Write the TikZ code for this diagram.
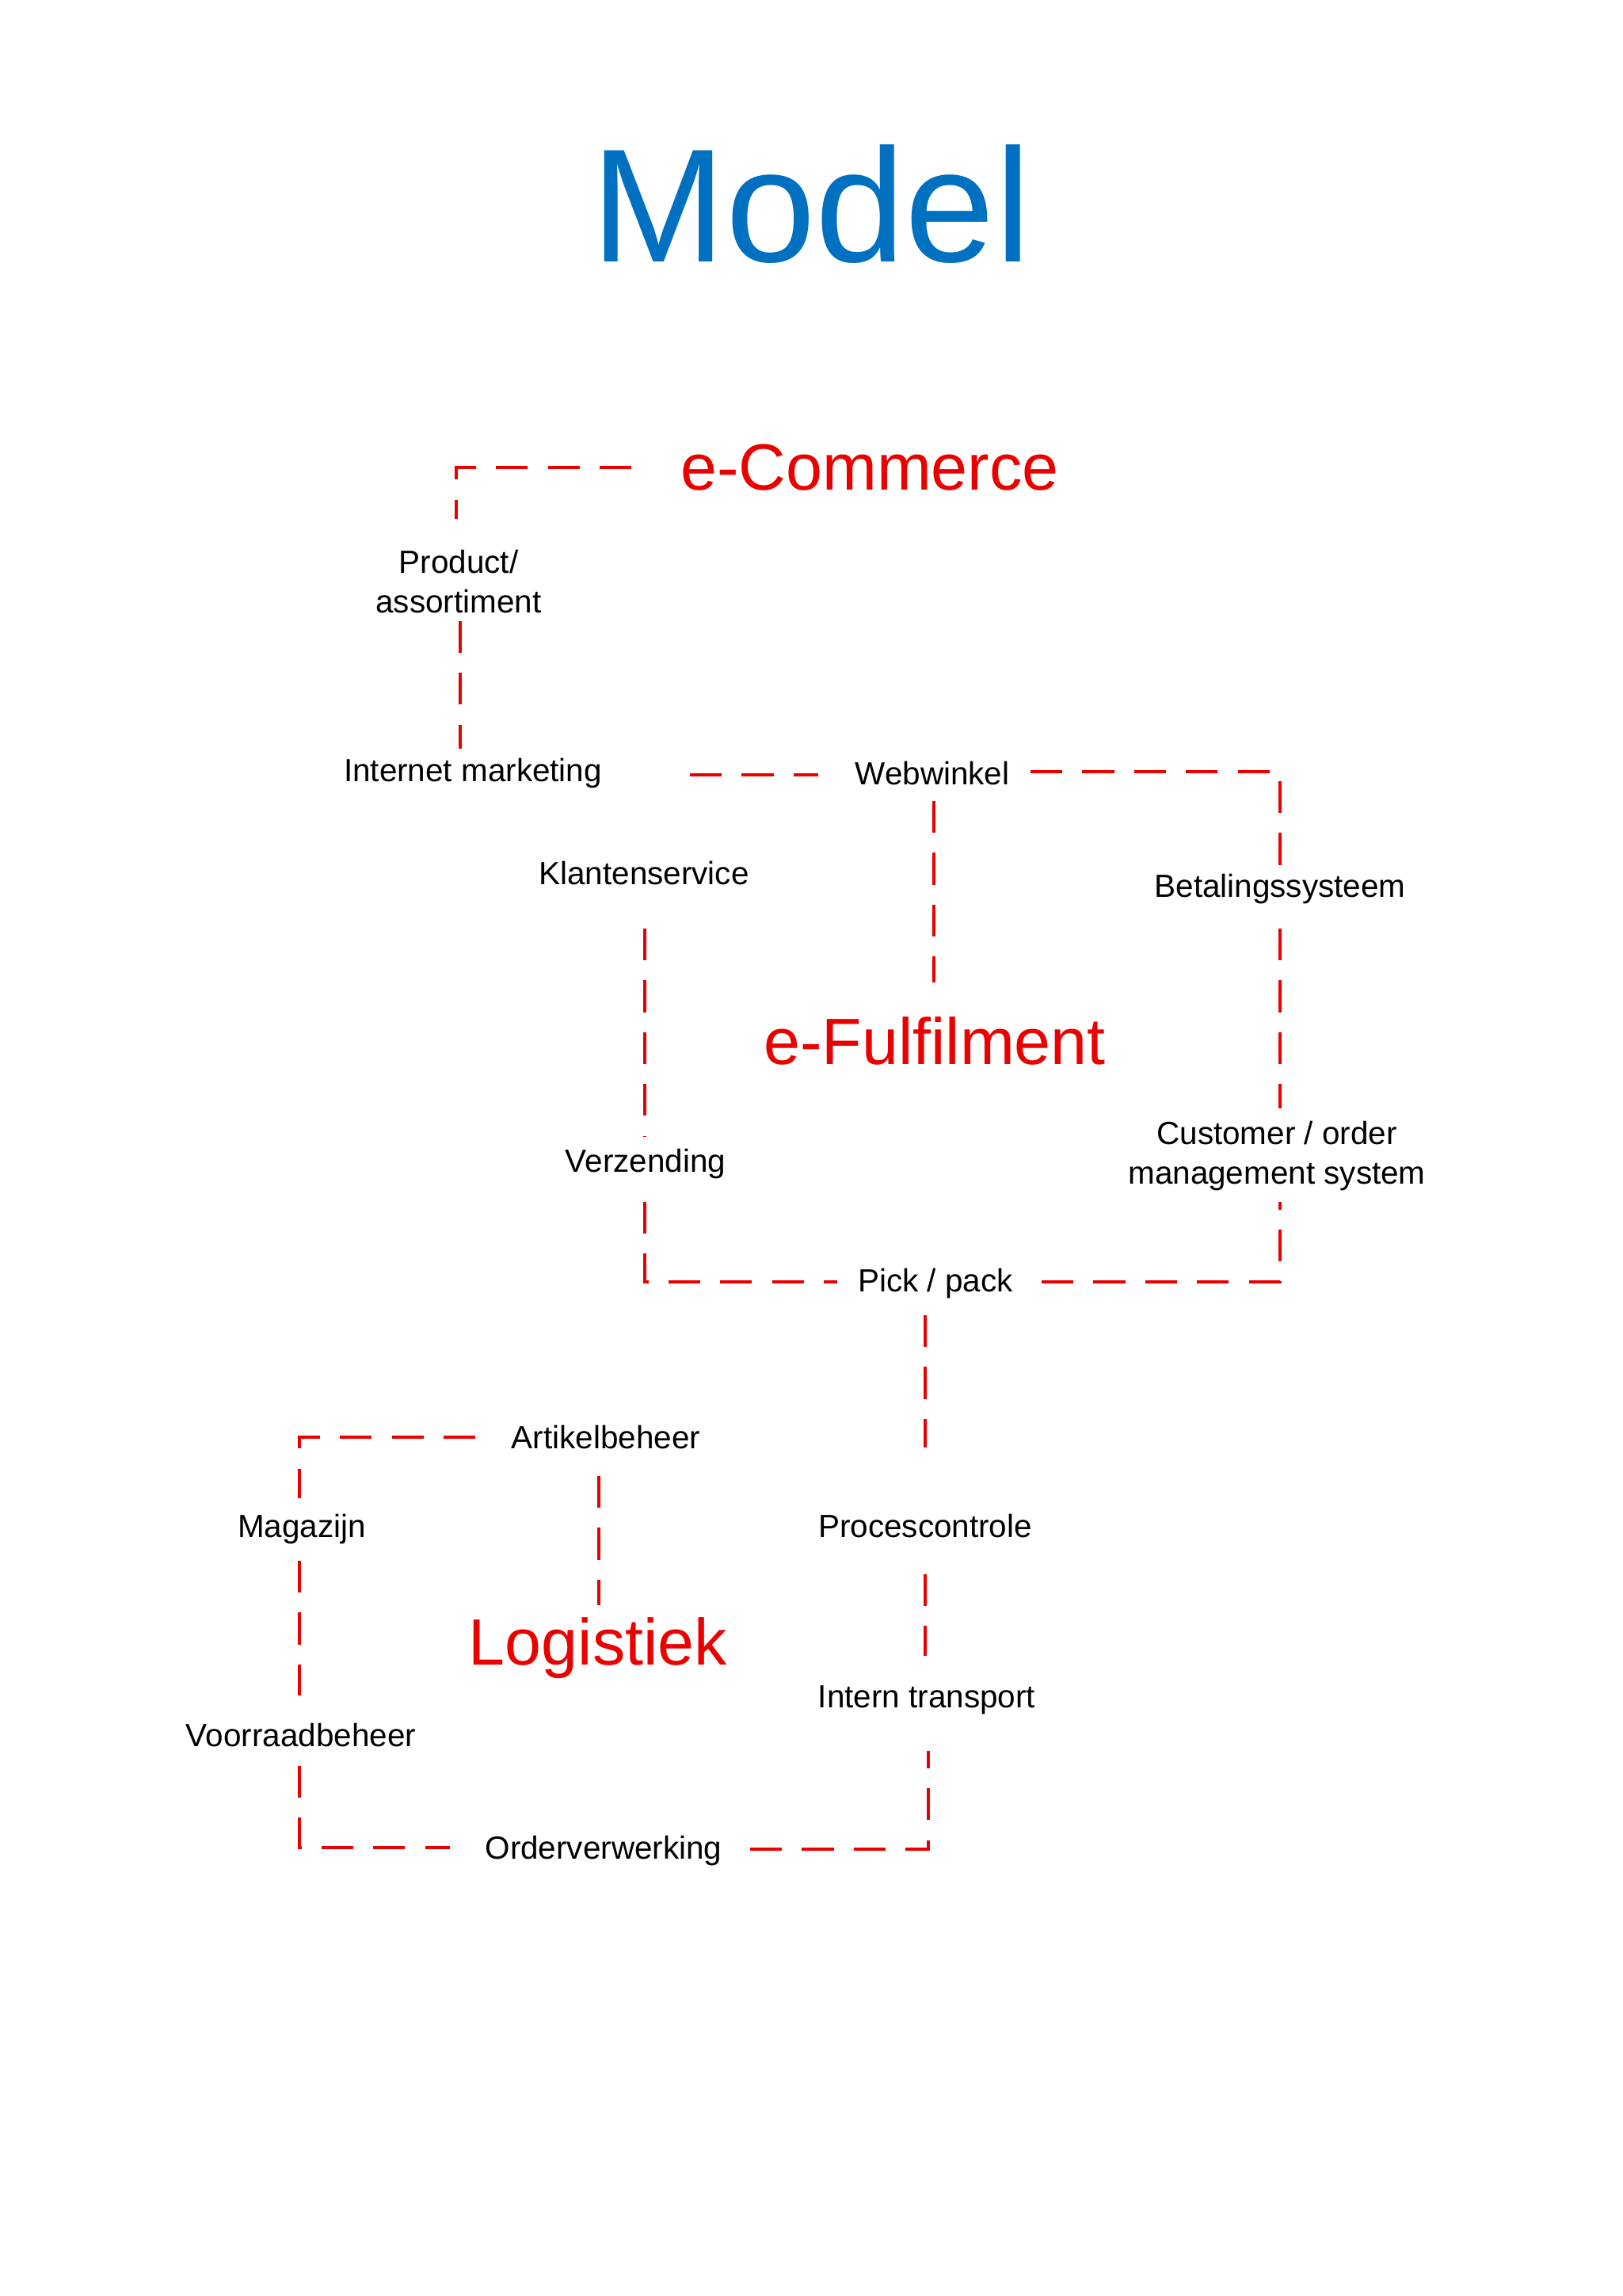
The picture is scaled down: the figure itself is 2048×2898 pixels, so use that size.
\documentclass[tikz,border=0pt]{standalone}
\usepackage{fontspec}
\setmainfont{Liberation Sans}
\definecolor{tblue}{RGB}{0,112,192}
\definecolor{tred}{RGB}{235,0,0}
\begin{document}
\begin{tikzpicture}[x=0.01cm,y=-0.01cm,
  lab/.style={font=\fontsize{11.5pt}{14pt}\selectfont,align=center,inner sep=0pt},
  big/.style={font=\fontsize{23.5pt}{28pt}\selectfont,text=tred,inner sep=0pt},
  dl/.style={draw=tred,line width=1.3pt,dash pattern=on 11.4pt off 7.2pt}]
\useasboundingbox[fill=white] (0,0) rectangle (2048,2898);
\node[font=\fontsize{58pt}{64pt}\selectfont,text=tblue,inner sep=0pt] (title) at (1024,258) {Model};
\node[big] (ec) at (1098,590) {e-Commerce};
\node[big] (ef) at (1180,1314) {e-Fulfilment};
\node[big] (lg) at (755,2080) {Logistiek};
\node[lab] (pa) at (579,734) {Product/\\assortiment};
\node[lab] (im) at (597,976) {Internet marketing};
\node[lab] (ww) at (1177,976) {Webwinkel};
\node[lab] (ks) at (813,1102) {Klantenservice};
\node[lab] (bs) at (1616,1122) {Betalingssysteem};
\node[lab] (vz) at (815,1469) {Verzending};
\node[lab] (co) at (1612,1459) {Customer / order\\management system};
\node[lab] (pp) at (1181,1620) {Pick / pack};
\node[lab] (ab) at (765,1814) {Artikelbeheer};
\node[lab] (mg) at (381,1930) {Magazijn};
\node[lab] (pc) at (1168,1926) {Procescontrole};
\node[lab] (vb) at (380,2190) {Voorraadbeheer};
\node[lab] (it) at (1170,2146) {Intern transport};
\node[lab] (ov) at (762,2336) {Orderverwerking};
\coordinate (c1) at (576,590);
\coordinate (c2) at (1616,974);
\coordinate (c3) at (814,1618);
\coordinate (c4) at (1616,1618);
\coordinate (c5) at (378,1814);
\coordinate (c6) at (378,2332);
\coordinate (c7) at (1172,2334);
\draw[dl] (797,590) -- (c1) -- (576,655);
\draw[dl] (581,784) -- (581,945);
\draw[dl] (871,978) -- (1033,978);
\draw[dl] (1301,974) -- (c2) -- (1616,1092);
\draw[dl] (1179,1011) -- (1179,1240);
\draw[dl] (814,1172) -- (814,1435);
\draw[dl] (1616,1172) -- (1616,1399);
\draw[dl] (814,1517) -- (c3) -- (1057,1618);
\draw[dl] (1315,1618) -- (c4) -- (1616,1517);
\draw[dl] (1168,1660) -- (1168,1827);
\draw[dl] (600,1814) -- (c5) -- (378,1891);
\draw[dl] (756,1863) -- (756,2026);
\draw[dl] (1168,1987) -- (1168,2090);
\draw[dl] (378,1970) -- (378,2140);
\draw[dl] (378,2229) -- (c6) -- (568,2332);
\draw[dl] (947,2334) -- (c7) -- (1172,2210);
\end{tikzpicture}
\end{document}
